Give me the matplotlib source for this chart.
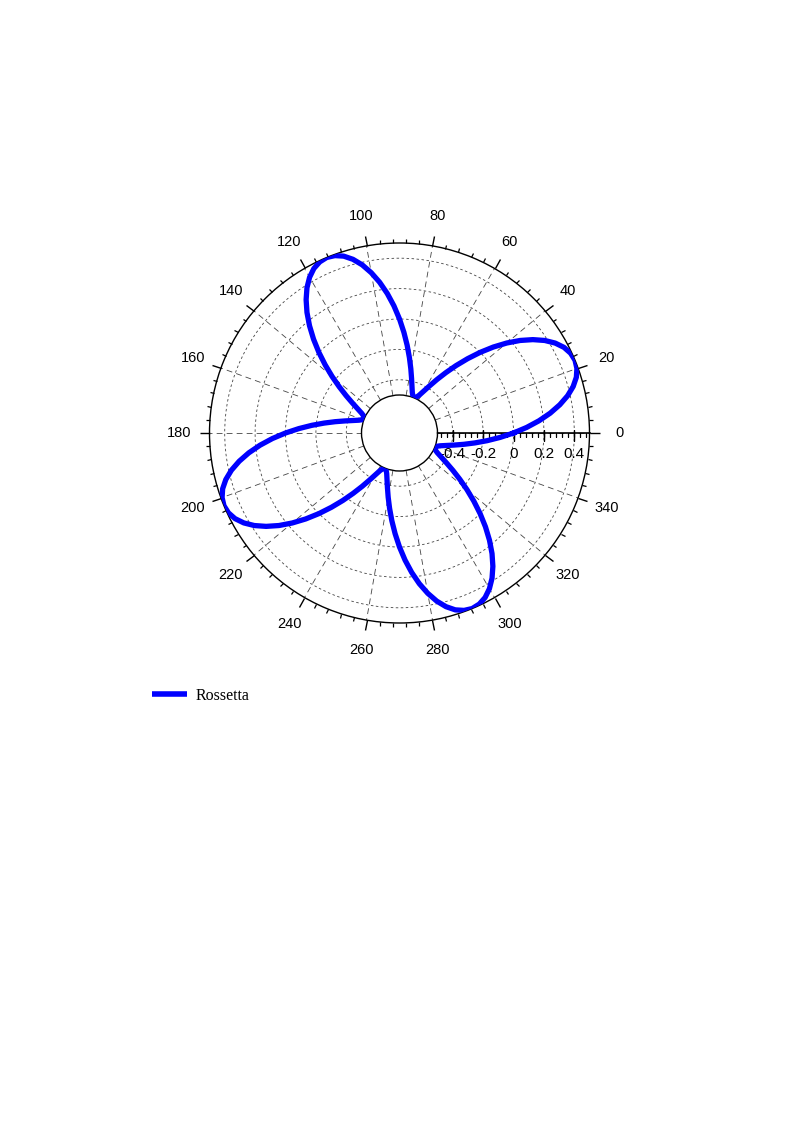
import numpy as np
import matplotlib
matplotlib.use("Agg")
import matplotlib.pyplot as plt

# ---- data ----
theta_deg = np.arange(0, 362.5, 2.5)
r_values = [
    0.0, 0.087, 0.171, 0.25, 0.321, 0.383, 0.433, 0.47, 0.492, 0.5, 0.492, 0.47,
    0.433, 0.383, 0.321, 0.25, 0.171, 0.087, 0.0, -0.087, -0.171, -0.25, -0.321, -0.383,
    -0.433, -0.47, -0.492, -0.5, -0.492, -0.47, -0.433, -0.383, -0.321, -0.25, -0.171, -0.087,
    0.0, 0.087, 0.171, 0.25, 0.321, 0.383, 0.433, 0.47, 0.492, 0.5, 0.492, 0.47,
    0.433, 0.383, 0.321, 0.25, 0.171, 0.087, 0.0, -0.087, -0.171, -0.25, -0.321, -0.383,
    -0.433, -0.47, -0.492, -0.5, -0.492, -0.47, -0.433, -0.383, -0.321, -0.25, -0.171, -0.087,
    0.0, 0.087, 0.171, 0.25, 0.321, 0.383, 0.433, 0.47, 0.492, 0.5, 0.492, 0.47,
    0.433, 0.383, 0.321, 0.25, 0.171, 0.087, 0.0, -0.087, -0.171, -0.25, -0.321, -0.383,
    -0.433, -0.47, -0.492, -0.5, -0.492, -0.47, -0.433, -0.383, -0.321, -0.25, -0.171, -0.087,
    0.0, 0.087, 0.171, 0.25, 0.321, 0.383, 0.433, 0.47, 0.492, 0.5, 0.492, 0.47,
    0.433, 0.383, 0.321, 0.25, 0.171, 0.087, 0.0, -0.087, -0.171, -0.25, -0.321, -0.383,
    -0.433, -0.47, -0.492, -0.5, -0.492, -0.47, -0.433, -0.383, -0.321, -0.25, -0.171, -0.087,
    0.0,
]
series_name = "Rossetta"

theta_major = np.arange(0, 360, 20)
theta_minor = np.arange(0, 360, 4)
theta_labels = [str(t) for t in theta_major]
r_range = (-0.5, 0.5)
r_origin = -0.75
r_major = [-0.4, -0.2, 0.0, 0.2, 0.4]
r_labels = ["-0.4", "-0.2", "0", "0.2", "0.4"]
r_minor = np.arange(-0.48, 0.49, 0.04)

sans = ["Liberation Sans", "DejaVu Sans"]
serif = ["Liberation Serif", "DejaVu Serif"]

fig = plt.figure(figsize=(8.0, 11.32), dpi=100)
ax = fig.add_axes([209.5 / 800, 1 - 623 / 1132, 380 / 800, 380 / 1132], projection="polar")

ax.plot(np.deg2rad(theta_deg), r_values, color="#0000ff", lw=3.8, zorder=4,
        solid_joinstyle="round", label=series_name)

ax.set_ylim(*r_range)
ax.set_rorigin(r_origin)

# angular axis
ax.set_xticks(np.deg2rad(theta_major))
ax.set_xticklabels(theta_labels, fontsize=10.5, family=sans)
ax.set_xticks(np.deg2rad(theta_minor), minor=True)
ax.tick_params(axis="x", which="both", bottom=False, top=True)
ax.tick_params(axis="x", which="major", direction="out", length=7.2, width=1.0,
               pad=7.5, color="black")
ax.tick_params(axis="x", which="minor", direction="out", length=3.0, width=0.9,
               color="black")
ax.xaxis.grid(True, which="major", color="#444444", lw=0.6, linestyle=(0, (7, 5)))
ax.xaxis.grid(False, which="minor")

# radial axis
ax.set_yticks(r_major)
ax.set_yticklabels([])
ax.tick_params(axis="y", length=0)
ax.yaxis.grid(True, color="#444444", lw=0.6, linestyle=(0, (3, 3)))

for name in ("polar", "inner"):
    if name in ax.spines:
        ax.spines[name].set_linewidth(1.0)
        ax.spines[name].set_color("black")

# radial axis line with ticks and labels at angle 0
ax.plot([0, 0], list(r_range), color="black", lw=1.2, zorder=3, clip_on=False)
ax.plot(np.zeros(len(r_minor)), r_minor, linestyle="none", marker=3,
        markersize=2.6, markeredgewidth=0.9, color="black", zorder=3)
ax.plot(np.zeros(len(r_major)), r_major, linestyle="none", marker=3,
        markersize=6.0, markeredgewidth=1.0, color="black", zorder=3)
ax.plot(np.zeros(len(r_major)), r_major, linestyle="none", marker=2,
        markersize=2.5, markeredgewidth=1.0, color="black", zorder=3)
for rv, lab in zip(r_major, r_labels):
    ax.annotate(lab, xy=(0, rv), xytext=(0, -15), textcoords="offset points",
                ha="center", va="center", fontsize=11, family=sans, zorder=2,
                annotation_clip=False)

leg = ax.legend(loc="center left", bbox_to_anchor=(152 / 800, 1 - 696 / 1132),
                bbox_transform=fig.transFigure, frameon=False, borderpad=0,
                borderaxespad=0, handlelength=2.2, handletextpad=0.55,
                prop={"family": serif, "size": 11.5})
for h in leg.get_lines():
    h.set_linewidth(4.0)
    h.set_solid_capstyle("butt")

fig.savefig("out.png", dpi=100)
